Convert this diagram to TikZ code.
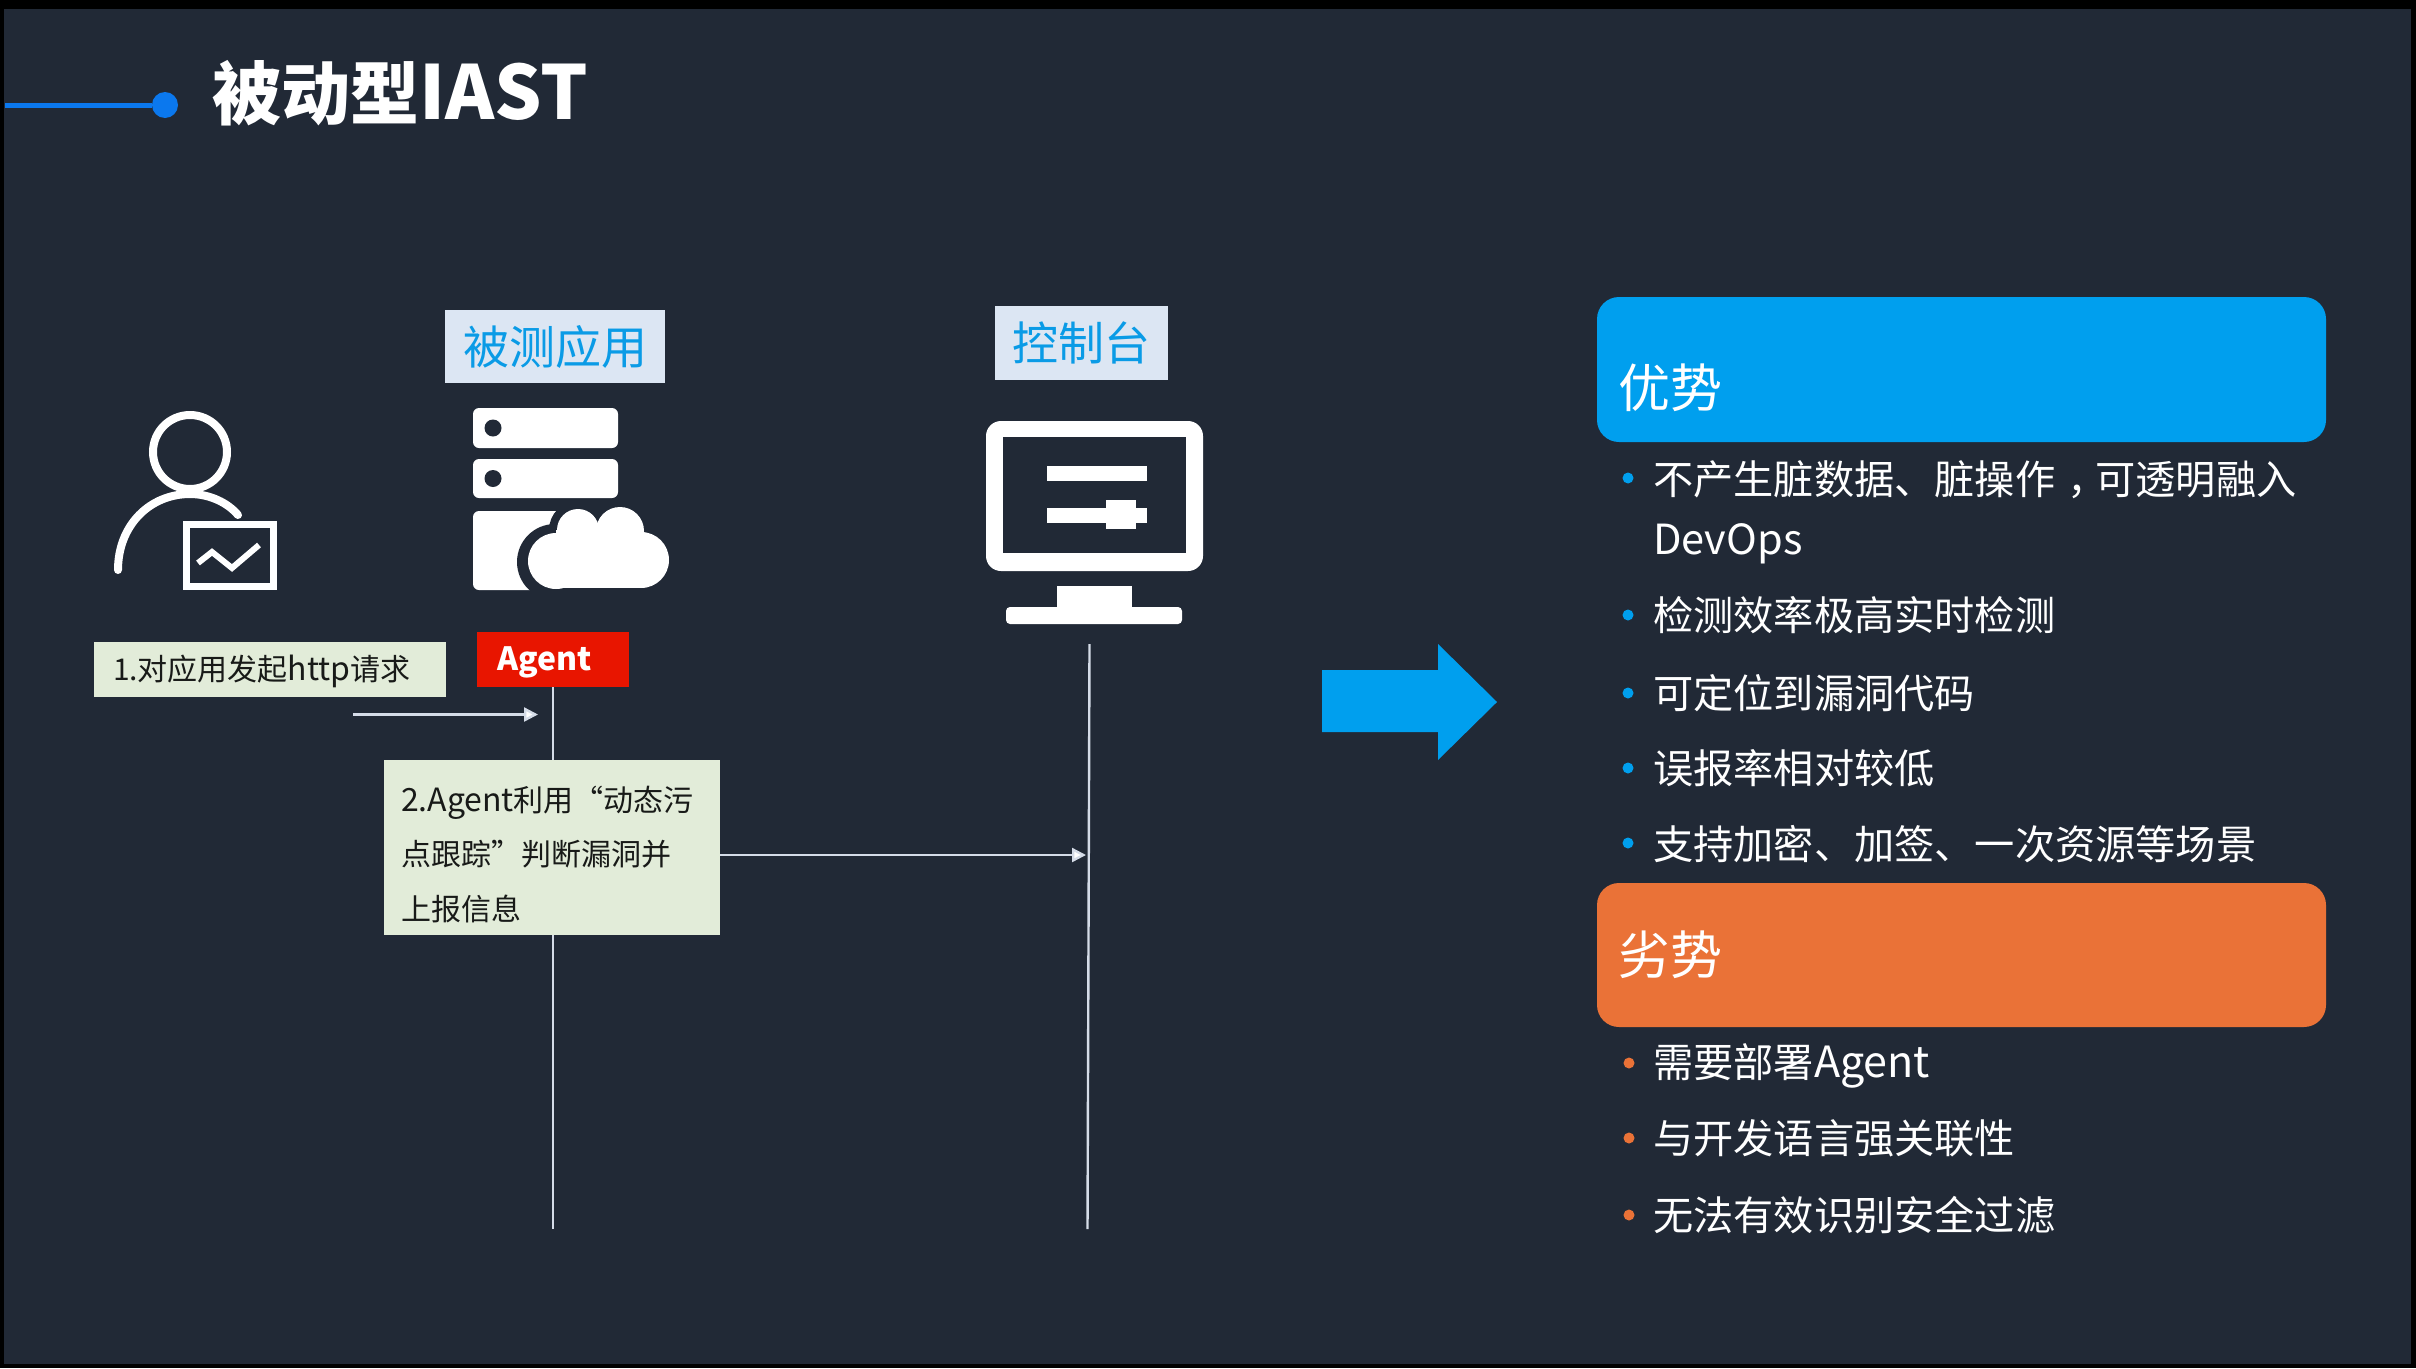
\documentclass[tikz,border=0pt]{standalone}
\usepackage{fontspec}
\setmainfont{Noto Sans CJK SC}
\usetikzlibrary{arrows.meta}
\definecolor{pagebg}{HTML}{212936}
\definecolor{frameblack}{HTML}{000000}
\definecolor{noteface}{HTML}{E2ECD9}
\definecolor{labelface}{HTML}{DCE6F3}
\definecolor{labelink}{HTML}{0A9BE6}
\definecolor{bluehead}{HTML}{009FEE}
\definecolor{orangehead}{HTML}{EA7237}
\definecolor{agentred}{HTML}{E81500}
\definecolor{titleblue}{HTML}{0B78EE}
\definecolor{rule}{HTML}{D5DCE8}
\definecolor{noteink}{HTML}{181A18}
\tikzset{
  x=1pt,y=-1pt,
  notebox/.style={fill=noteface,text=noteink,font=\fontsize{30}{54.5}\selectfont,inner ysep=0pt,align=left},
  labelbox/.style={fill=labelface,text=labelink,font=\fontsize{46}{50}\selectfont,inner sep=0pt},
  headbox/.style={rounded corners=22pt,inner sep=0pt,minimum width=729pt},
  headtext/.style={text=white,font=\fontsize{52}{56}\selectfont,inner sep=0pt,anchor=base west},
  itemtext/.style={text=white,font=\fontsize{40.2}{46}\selectfont,inner sep=0pt,anchor=base west},
  lifeline/.style={draw=rule,line width=2.4pt},
  flow/.style={draw=rule,line width=2.4pt,-{Triangle[length=14pt,width=14pt,fill=white]}},
  icon/.style={draw=white,line width=8pt,line cap=round},
  iconfill/.style={fill=white}
}
\begin{document}
\begin{tikzpicture}
\useasboundingbox (0,0) rectangle (2416,1368);
\fill[frameblack] (0,0) rectangle (2416,1368);
\fill[pagebg] (4,9) rectangle (2411,1364);

% title
\coordinate (ruleL) at (5,105);
\node[circle,fill=titleblue,minimum size=26pt,inner sep=0pt] (dot) at (165,105) {};
\draw[titleblue,line width=5pt] (ruleL) -- (dot);
\node[text=white,font=\fontsize{69}{74}\selectfont\bfseries,inner sep=0pt,anchor=base west] (title) at (212,119) {被动型\fontsize{74.5}{74}\selectfont IAST};

% labels
\node[labelbox,minimum width=220pt,minimum height=73pt] (app) at (555,346.5) {被测应用};
\node[labelbox,minimum width=173pt,minimum height=74pt] (console) at (1081.5,343) {控制台};

% person icon
\draw[icon] (190,452) circle (37);
\draw[icon] (118,570) .. controls (118,525) and (150,494) .. (190,494) .. controls (210,494) and (228,503) .. (238,515);
\draw[white,line width=7pt] (186.5,524.5) rectangle (273,586.5);
\draw[white,line width=6pt] (198,563) -- (212,552) -- (232,568) -- (259,545);

% server icon
\fill[iconfill,rounded corners=6pt] (473,408) rectangle (618,448);
\fill[pagebg] (493,428) circle (8.5);
\fill[iconfill,rounded corners=6pt] (473,459) rectangle (618,498);
\fill[pagebg] (493,478.5) circle (8.5);
\fill[iconfill,rounded corners=6pt] (473,511) rectangle (600,590);
\fill[pagebg] (555,562) circle (38);
\fill[pagebg] (578,530) circle (29);
\fill[pagebg] (560,535) rectangle (680,600);
\fill[iconfill] (556,561) circle (28);
\fill[iconfill] (578,530) circle (21);
\fill[iconfill] (620,531) circle (24);
\fill[iconfill] (641,560) circle (28);
\fill[iconfill] (556,530) rectangle (641,588);

% monitor icon
\fill[iconfill,rounded corners=15pt] (986,421) rectangle (1203,571);
\fill[pagebg] (1003,437) rectangle (1186,553);
\fill[iconfill] (1047,466) rectangle (1147,481);
\fill[iconfill] (1047,508) rectangle (1147,523);
\fill[iconfill] (1106,500) rectangle (1136,529);
\fill[iconfill] (1057,586) rectangle (1132,610);
\fill[iconfill,rounded corners=4pt] (1006,607) rectangle (1182,624);

% agent
\node[fill=agentred,text=white,font=\fontsize{32}{36}\selectfont\bfseries,minimum height=55pt,inner ysep=0pt,inner xsep=20.5pt,text width=111pt,align=left] (agent) at (553,659.5) {\rule{0pt}{29pt}Agent};

% lifelines
\coordinate (end1) at (553,1229);
\coordinate (top2) at (1089.5,644);
\coordinate (end2) at (1087.5,1229);
\draw[lifeline] (agent.south) -- (end1);
\draw[lifeline] (top2) -- (end2);

% notes
\node[notebox,minimum height=55pt,inner xsep=19pt,text width=314pt] (note1) at (270,669.5) {\rule{0pt}{30pt}1.对应用发起{\fontsize{32}{54.5}\selectfont http}请求};
\node[notebox,minimum height=175pt,inner xsep=17pt,text width=302pt] (note2) at (552,847.5) {\rule{0pt}{39pt}{\fontsize{32}{54.5}\selectfont 2.Agent}利用“动态污\\点跟踪”判断漏洞并\\上报信息};

% flows
\coordinate (f1a) at (353,714.5);
\coordinate (f1b) at (538,714.5);
\draw[flow] (f1a) -- (f1b);
\coordinate (f2a) at (note2.east |- 0,855);
\coordinate (f2b) at (1086,855);
\draw[flow] (f2a) -- (f2b);

% big arrow
\fill[bluehead] (1322,670) -- (1438,670) -- (1438,644) -- (1497,702) -- (1438,760) -- (1438,732) -- (1322,732) -- cycle;

% advantages
\node[headbox,fill=bluehead,minimum height=145pt] (pros) at (1961.5,369.5) {};
\node[headtext] (prost) at (1618,407) {优势};
\foreach \n/\y/\t in {a/494/{不产生脏数据、脏操作\kern.3em，\kern-.3em可透明融入},b/554/{\fontsize{41.5}{46}\selectfont DevOps},c/630/检测效率极高实时检测,d/708/可定位到漏洞代码,e/783/误报率相对较低,f/859/支持加密、加签、一次资源等场景}
  \node[itemtext] (pro\n) at (1653,\y) {\t};
\foreach \y in {478,615,693,768,843}
  \fill[bluehead] (1628,\y) circle (5.5);

% disadvantages
\node[headbox,fill=orangehead,minimum height=144pt] (cons) at (1961.5,955) {};
\node[headtext] (const) at (1618,974) {劣势};
\foreach \n/\y/\t in {a/1077/{需要部署\fontsize{43}{46}\selectfont Agent},b/1153/与开发语言强关联性,c/1230/无法有效识别安全过滤}
  \node[itemtext] (con\n) at (1653,\y) {\t};
\foreach \y in {1063,1138,1215}
  \fill[orangehead] (1629,\y) circle (5.5);
\end{tikzpicture}
\end{document}
